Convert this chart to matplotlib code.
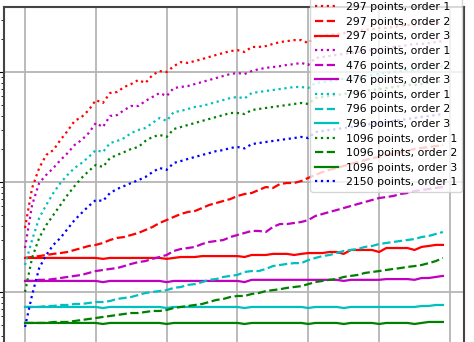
import matplotlib
matplotlib.use("Agg")
import matplotlib.pyplot as plt

iterations = list(range(60))

# order 1 (dotted)
err_297_o1 = [3.82, 8.82, 13.4, 17.6, 19.5, 24.1, 29.1, 35.9, 39.0, 45.1,
              55.6, 52.3, 64.4, 65.8, 73.1, 77.8, 84.6, 79.5, 93.9, 102,
              100, 113, 123, 121, 126, 131, 137, 143, 149, 155,
              158, 152, 169, 169, 172, 180, 187, 191, 195, 195,
              183, 208, 212, 217, 221, 226, 231, 236, 241, 246,
              251, 251, 257, 262, 267, 267, 273, 279, 279, 285]
err_476_o1 = [2.51, 6.18, 9.79, 11.6, 13.4, 15.8, 18.3, 21.7, 24.1, 27.9,
              34.4, 31.6, 39.8, 40.6, 45.1, 49.1, 49.1, 54.5, 59.3, 64.4,
              60.5, 71.5, 73.1, 74.6, 77.8, 81.1, 84.6, 88.2, 92.0, 95.9,
              97.9, 95.9, 102, 106, 109, 111, 113, 116, 118, 121,
              116, 134, 137, 140, 143, 146, 149, 152, 155, 158,
              162, 165, 169, 172, 176, 180, 180, 183, 187, 191]
err_796_o1 = [1.76, 2.97, 4.71, 6.18, 7.94, 9.79, 11.6, 13.4, 14.9, 16.9,
              19.5, 18.7, 22.6, 23.6, 25.1, 27.9, 29.7, 31.0, 34.4, 38.2,
              35.9, 43.3, 44.2, 46.1, 48.1, 49.1, 51.2, 53.4, 55.6, 58.0,
              59.3, 57.5, 64.4, 65.8, 67.2, 68.6, 70.0, 71.5, 73.1, 73.1,
              71.5, 79.5, 81.1, 82.8, 84.6, 86.4, 88.2, 90.1, 92.0, 93.9,
              95.9, 97.9, 100, 102, 104, 104, 106, 109, 111, 113]
err_1096_o1 = [1.0, 2.04, 3.10, 4.06, 5.01, 6.18, 7.62, 9.19, 10.9, 12.6,
               14.3, 13.7, 16.5, 17.6, 18.7, 20.0, 20.8, 23.6, 25.7, 26.8,
               25.7, 30.3, 31.6, 33.0, 34.4, 35.9, 37.4, 39.0, 40.6, 42.4,
               42.4, 41.5, 45.1, 46.1, 47.1, 48.1, 49.1, 50.1, 51.2, 52.3,
               51.2, 58.0, 59.3, 60.5, 61.8, 63.1, 64.4, 65.8, 67.2, 68.6,
               70.0, 71.5, 73.1, 74.6, 76.2, 76.2, 77.8, 79.5, 81.1, 82.8]
err_2150_o1 = [0.481, 0.939, 1.65, 2.17, 2.68, 3.10, 3.74, 4.51, 5.23, 6.05,
               6.86, 6.72, 7.94, 8.64, 9.19, 9.79, 10.4, 11.1, 12.3, 13.4,
               12.9, 14.9, 15.5, 16.2, 16.9, 17.6, 18.3, 19.1, 19.5, 20.4,
               20.8, 20.2, 22.1, 22.6, 23.1, 23.6, 24.1, 24.6, 25.1, 25.7,
               25.1, 28.5, 29.1, 29.7, 30.3, 31.0, 31.6, 32.3, 33.0, 33.7,
               34.4, 35.1, 35.9, 36.6, 37.4, 38.2, 39.0, 39.8, 40.6, 41.5]

# order 2 (dashed)
err_297_o2 = [2.04, 2.08, 2.12, 2.17, 2.22, 2.26, 2.31, 2.41, 2.51, 2.62,
              2.68, 2.79, 2.97, 3.10, 3.16, 3.30, 3.44, 3.66, 3.90, 4.24,
              4.51, 4.81, 5.12, 5.34, 5.45, 5.80, 6.18, 6.44, 6.72, 7.00,
              7.46, 7.78, 7.94, 8.46, 9.00, 8.82, 9.59, 9.79, 9.79, 10.2,
              10.9, 11.6, 12.3, 12.9, 13.4, 14.0, 14.6, 15.2, 15.8, 16.5,
              16.9, 17.6, 18.0, 18.7, 19.1, 20.0, 20.4, 20.8, 21.2, 21.7]
err_476_o2 = [1.26, 1.26, 1.29, 1.29, 1.31, 1.34, 1.37, 1.40, 1.43, 1.49,
              1.55, 1.585, 1.62, 1.65, 1.72, 1.80, 1.87, 1.91, 2.0, 2.08,
              2.17, 2.36, 2.46, 2.51, 2.57, 2.73, 2.85, 2.91, 2.97, 3.16,
              3.30, 3.44, 3.59, 3.59, 3.51, 3.90, 4.15, 4.15, 4.24, 4.33,
              4.51, 4.91, 5.12, 5.34, 5.56, 5.80, 6.05, 6.31, 6.58, 6.86,
              7.15, 7.30, 7.46, 7.78, 7.94, 8.28, 8.46, 8.64, 8.82, 9.00]
err_796_o2 = [0.731, 0.731, 0.731, 0.746, 0.746, 0.762, 0.762, 0.778, 0.778, 0.794,
              0.811, 0.811, 0.828, 0.864, 0.882, 0.901, 0.939, 0.979, 1.0, 1.02,
              1.04, 1.09, 1.11, 1.16, 1.18, 1.23, 1.29, 1.31, 1.37, 1.40,
              1.43, 1.52, 1.55, 1.55, 1.62, 1.72, 1.76, 1.80, 1.83, 1.83,
              1.95, 2.04, 2.12, 2.17, 2.26, 2.36, 2.41, 2.46, 2.57, 2.62,
              2.73, 2.79, 2.85, 2.91, 2.97, 3.03, 3.16, 3.23, 3.37, 3.51]
err_1096_o2 = [0.523, 0.523, 0.523, 0.523, 0.534, 0.534, 0.534, 0.545, 0.556, 0.568,
               0.580, 0.593, 0.605, 0.618, 0.631, 0.644, 0.644, 0.658, 0.672, 0.672,
               0.686, 0.715, 0.731, 0.746, 0.762, 0.778, 0.811, 0.846, 0.864, 0.901,
               0.920, 0.920, 0.959, 0.979, 1.02, 1.04, 1.06, 1.09, 1.11, 1.13,
               1.18, 1.23, 1.26, 1.29, 1.31, 1.37, 1.40, 1.43, 1.49, 1.52,
               1.55, 1.585, 1.62, 1.65, 1.69, 1.72, 1.76, 1.83, 1.91, 2.04]

# order 3 (solid)
err_297_o3 = [2.04, 2.04, 2.04, 2.04, 2.04, 2.04, 2.04, 2.04, 2.04, 2.04,
              2.04, 2.0, 2.04, 2.04, 2.04, 2.04, 2.04, 2.04, 2.04, 2.04,
              2.0, 2.04, 2.08, 2.08, 2.08, 2.12, 2.12, 2.12, 2.12, 2.12,
              2.12, 2.08, 2.17, 2.17, 2.17, 2.22, 2.22, 2.22, 2.17, 2.22,
              2.26, 2.26, 2.26, 2.31, 2.31, 2.22, 2.41, 2.41, 2.41, 2.41,
              2.31, 2.51, 2.51, 2.51, 2.51, 2.41, 2.57, 2.62, 2.68, 2.68]
err_476_o3 = [1.26, 1.26, 1.26, 1.26, 1.26, 1.26, 1.26, 1.26, 1.26, 1.26,
              1.26, 1.23, 1.26, 1.26, 1.26, 1.26, 1.26, 1.26, 1.26, 1.26,
              1.23, 1.26, 1.26, 1.26, 1.26, 1.26, 1.26, 1.26, 1.26, 1.26,
              1.26, 1.23, 1.29, 1.29, 1.29, 1.29, 1.29, 1.29, 1.29, 1.29,
              1.29, 1.29, 1.29, 1.29, 1.29, 1.26, 1.29, 1.29, 1.29, 1.29,
              1.29, 1.31, 1.31, 1.31, 1.31, 1.29, 1.34, 1.34, 1.37, 1.40]
err_796_o3 = [0.731, 0.731, 0.731, 0.731, 0.731, 0.731, 0.731, 0.731, 0.731, 0.731,
              0.731, 0.715, 0.731, 0.731, 0.731, 0.731, 0.731, 0.731, 0.731, 0.731,
              0.715, 0.731, 0.731, 0.731, 0.731, 0.731, 0.731, 0.731, 0.731, 0.731,
              0.731, 0.715, 0.731, 0.731, 0.731, 0.731, 0.731, 0.731, 0.731, 0.731,
              0.715, 0.731, 0.731, 0.731, 0.731, 0.715, 0.731, 0.731, 0.731, 0.731,
              0.731, 0.731, 0.731, 0.731, 0.731, 0.731, 0.746, 0.746, 0.762, 0.762]
err_1096_o3 = [0.523, 0.523, 0.523, 0.523, 0.523, 0.523, 0.523, 0.523, 0.523, 0.523,
               0.523, 0.512, 0.523, 0.523, 0.523, 0.523, 0.523, 0.523, 0.523, 0.523,
               0.512, 0.523, 0.523, 0.523, 0.523, 0.523, 0.523, 0.523, 0.523, 0.523,
               0.523, 0.512, 0.523, 0.523, 0.523, 0.523, 0.523, 0.523, 0.523, 0.523,
               0.512, 0.523, 0.523, 0.523, 0.523, 0.512, 0.523, 0.523, 0.523, 0.523,
               0.512, 0.523, 0.523, 0.523, 0.523, 0.512, 0.523, 0.534, 0.534, 0.534]

series = [
    ("297 points, order 1", err_297_o1, "r", ":"),
    ("297 points, order 2", err_297_o2, "r", "--"),
    ("297 points, order 3", err_297_o3, "r", "-"),
    ("476 points, order 1", err_476_o1, "m", ":"),
    ("476 points, order 2", err_476_o2, "m", "--"),
    ("476 points, order 3", err_476_o3, "m", "-"),
    ("796 points, order 1", err_796_o1, "c", ":"),
    ("796 points, order 2", err_796_o2, "c", "--"),
    ("796 points, order 3", err_796_o3, "c", "-"),
    ("1096 points, order 1", err_1096_o1, "g", ":"),
    ("1096 points, order 2", err_1096_o2, "g", "--"),
    ("1096 points, order 3", err_1096_o3, "g", "-"),
    ("2150 points, order 1", err_2150_o1, "b", ":"),
]

W, H = 474, 342
fig = plt.figure(figsize=(W / 100, H / 100), dpi=100)
# axes region (the reference is a crop: left/top/right spines visible, bottom cut)
left_px, right_px, top_px, bottom_px = 4, 464, 7, 349.5
ax = fig.add_axes([left_px / W, 1 - bottom_px / H,
                   (right_px - left_px) / W, (bottom_px - top_px) / H])

for label, vals, color, ls in series:
    ax.plot(iterations, vals, color=color, linestyle=ls, linewidth=1.6, label=label)

ax.set_yscale("log")
ax.set_xlim(-2.965, 61.98)
ax.set_ylim(0.3, 390)
ax.set_xticks([0, 10, 20, 30, 40, 50, 60])
ax.grid(True, which="major", color="#b5b5b5", linewidth=1.3)
ax.tick_params(labelleft=False, labelbottom=False)
for s in ax.spines.values():
    s.set_color("#444444")
    s.set_linewidth(1.5)

leg = ax.legend(loc="upper right", bbox_to_anchor=(462 / W, 1.006),
                bbox_transform=fig.transFigure, borderaxespad=0,
                fontsize=7.85, labelspacing=0.42, handlelength=2.1,
                handletextpad=0.8, framealpha=0.8)

fig.savefig("out.png", dpi=100)
